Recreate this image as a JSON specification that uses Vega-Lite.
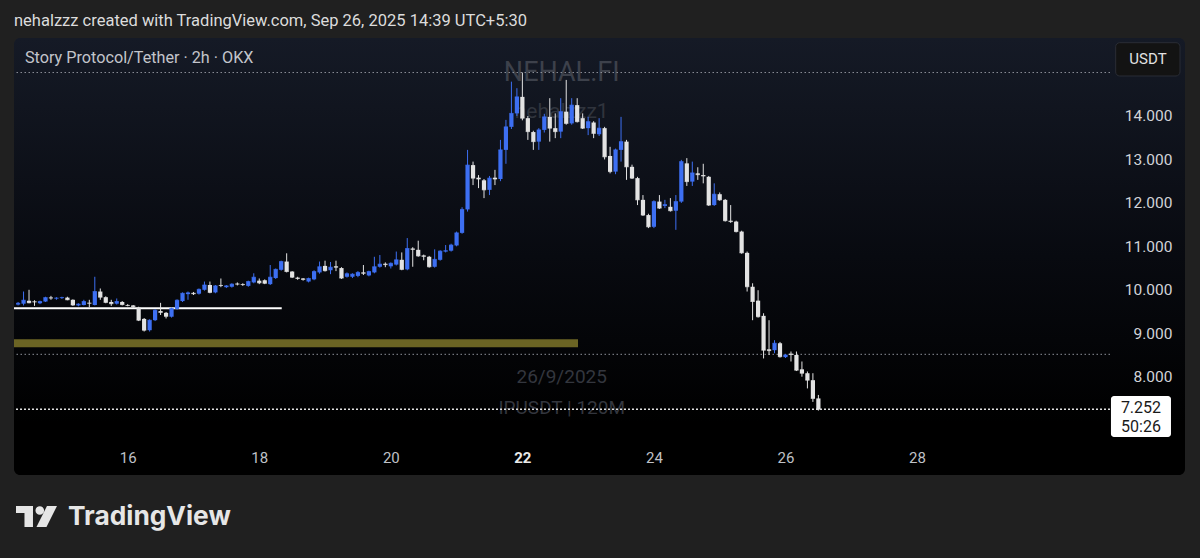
{
"$schema": "https://vega.github.io/schema/vega-lite/v6.json",
"width": 1096,
"height": 402,
"autosize": {"type": "none"},
"padding": {"left": 14, "top": 38, "right": 90, "bottom": 118},
"background": "#202020",
"title": {"text": "nehalzzz created with TradingView.com, Sep 26, 2025 14:39 UTC+5:30", "anchor": "start", "frame": "group", "offset": 9, "fontSize": 16.5, "fontWeight": "normal", "font": "Roboto", "color": "#dcdcdc"},
"config": {"view": {"stroke": null}, "font": "Roboto"},
"datasets": {
"one": [{}],
"candles": [
{"t":"2025-09-14T09:30Z","o":9.66,"h":9.72,"l":9.64,"c":9.69},
{"t":"2025-09-14T11:30Z","o":9.68,"h":9.96,"l":9.64,"c":9.76},
{"t":"2025-09-14T13:30Z","o":9.75,"h":10.00,"l":9.69,"c":9.70},
{"t":"2025-09-14T15:30Z","o":9.73,"h":9.76,"l":9.63,"c":9.72},
{"t":"2025-09-14T17:30Z","o":9.69,"h":9.75,"l":9.67,"c":9.73},
{"t":"2025-09-14T19:30Z","o":9.73,"h":9.84,"l":9.72,"c":9.82},
{"t":"2025-09-14T21:30Z","o":9.82,"h":9.86,"l":9.77,"c":9.81},
{"t":"2025-09-14T23:30Z","o":9.80,"h":9.83,"l":9.77,"c":9.81},
{"t":"2025-09-15T01:30Z","o":9.81,"h":9.84,"l":9.79,"c":9.82},
{"t":"2025-09-15T03:30Z","o":9.82,"h":9.84,"l":9.76,"c":9.77},
{"t":"2025-09-15T05:30Z","o":9.77,"h":9.78,"l":9.63,"c":9.65},
{"t":"2025-09-15T07:30Z","o":9.64,"h":9.69,"l":9.62,"c":9.67},
{"t":"2025-09-15T09:30Z","o":9.65,"h":9.77,"l":9.64,"c":9.73},
{"t":"2025-09-15T11:30Z","o":9.70,"h":9.77,"l":9.60,"c":9.69},
{"t":"2025-09-15T13:30Z","o":9.65,"h":10.30,"l":9.64,"c":9.96},
{"t":"2025-09-15T15:30Z","o":9.96,"h":10.03,"l":9.77,"c":9.83},
{"t":"2025-09-15T17:30Z","o":9.83,"h":9.85,"l":9.69,"c":9.71},
{"t":"2025-09-15T19:30Z","o":9.72,"h":9.77,"l":9.63,"c":9.68},
{"t":"2025-09-15T21:30Z","o":9.68,"h":9.80,"l":9.66,"c":9.73},
{"t":"2025-09-15T23:30Z","o":9.72,"h":9.74,"l":9.64,"c":9.66},
{"t":"2025-09-16T01:30Z","o":9.65,"h":9.67,"l":9.62,"c":9.64},
{"t":"2025-09-16T03:30Z","o":9.64,"h":9.65,"l":9.58,"c":9.61},
{"t":"2025-09-16T05:30Z","o":9.59,"h":9.61,"l":9.28,"c":9.30},
{"t":"2025-09-16T07:30Z","o":9.33,"h":9.35,"l":9.04,"c":9.07},
{"t":"2025-09-16T09:30Z","o":9.07,"h":9.32,"l":9.04,"c":9.30},
{"t":"2025-09-16T11:30Z","o":9.30,"h":9.55,"l":9.28,"c":9.53},
{"t":"2025-09-16T13:30Z","o":9.51,"h":9.70,"l":9.42,"c":9.48},
{"t":"2025-09-16T15:30Z","o":9.47,"h":9.49,"l":9.34,"c":9.39},
{"t":"2025-09-16T17:30Z","o":9.38,"h":9.59,"l":9.36,"c":9.57},
{"t":"2025-09-16T19:30Z","o":9.56,"h":9.78,"l":9.54,"c":9.76},
{"t":"2025-09-16T21:30Z","o":9.74,"h":9.94,"l":9.72,"c":9.92},
{"t":"2025-09-16T23:30Z","o":9.90,"h":9.96,"l":9.77,"c":9.93},
{"t":"2025-09-17T01:30Z","o":9.93,"h":9.95,"l":9.88,"c":9.91},
{"t":"2025-09-17T03:30Z","o":9.91,"h":10.03,"l":9.89,"c":10.01},
{"t":"2025-09-17T05:30Z","o":10.00,"h":10.19,"l":9.98,"c":10.11},
{"t":"2025-09-17T07:30Z","o":10.11,"h":10.19,"l":9.92,"c":9.94},
{"t":"2025-09-17T09:30Z","o":9.94,"h":10.11,"l":9.92,"c":10.09},
{"t":"2025-09-17T11:30Z","o":10.11,"h":10.26,"l":10.06,"c":10.10},
{"t":"2025-09-17T13:30Z","o":10.06,"h":10.11,"l":10.04,"c":10.09},
{"t":"2025-09-17T15:30Z","o":10.07,"h":10.15,"l":10.05,"c":10.13},
{"t":"2025-09-17T17:30Z","o":10.14,"h":10.17,"l":10.10,"c":10.13},
{"t":"2025-09-17T19:30Z","o":10.13,"h":10.15,"l":10.09,"c":10.12},
{"t":"2025-09-17T21:30Z","o":10.09,"h":10.21,"l":10.07,"c":10.19},
{"t":"2025-09-17T23:30Z","o":10.17,"h":10.38,"l":10.15,"c":10.29},
{"t":"2025-09-18T01:30Z","o":10.21,"h":10.26,"l":10.13,"c":10.16},
{"t":"2025-09-18T03:30Z","o":10.22,"h":10.24,"l":10.13,"c":10.15},
{"t":"2025-09-18T05:30Z","o":10.13,"h":10.57,"l":10.11,"c":10.29},
{"t":"2025-09-18T07:30Z","o":10.27,"h":10.49,"l":10.25,"c":10.47},
{"t":"2025-09-18T09:30Z","o":10.46,"h":10.67,"l":10.44,"c":10.65},
{"t":"2025-09-18T11:30Z","o":10.65,"h":10.84,"l":10.40,"c":10.42},
{"t":"2025-09-18T13:30Z","o":10.42,"h":10.43,"l":10.27,"c":10.29},
{"t":"2025-09-18T15:30Z","o":10.28,"h":10.30,"l":10.23,"c":10.26},
{"t":"2025-09-18T17:30Z","o":10.26,"h":10.27,"l":10.21,"c":10.24},
{"t":"2025-09-18T19:30Z","o":10.19,"h":10.28,"l":10.17,"c":10.26},
{"t":"2025-09-18T21:30Z","o":10.24,"h":10.45,"l":10.22,"c":10.42},
{"t":"2025-09-18T23:30Z","o":10.40,"h":10.65,"l":10.37,"c":10.53},
{"t":"2025-09-19T01:30Z","o":10.55,"h":10.67,"l":10.42,"c":10.44},
{"t":"2025-09-19T03:30Z","o":10.45,"h":10.64,"l":10.36,"c":10.52},
{"t":"2025-09-19T05:30Z","o":10.54,"h":10.67,"l":10.43,"c":10.52},
{"t":"2025-09-19T07:30Z","o":10.50,"h":10.52,"l":10.25,"c":10.27},
{"t":"2025-09-19T09:30Z","o":10.30,"h":10.40,"l":10.28,"c":10.37},
{"t":"2025-09-19T11:30Z","o":10.30,"h":10.38,"l":10.27,"c":10.36},
{"t":"2025-09-19T13:30Z","o":10.32,"h":10.43,"l":10.29,"c":10.40},
{"t":"2025-09-19T15:30Z","o":10.40,"h":10.57,"l":10.34,"c":10.38},
{"t":"2025-09-19T17:30Z","o":10.33,"h":10.44,"l":10.31,"c":10.42},
{"t":"2025-09-19T19:30Z","o":10.40,"h":10.76,"l":10.38,"c":10.53},
{"t":"2025-09-19T21:30Z","o":10.53,"h":10.80,"l":10.51,"c":10.59},
{"t":"2025-09-19T23:30Z","o":10.60,"h":10.63,"l":10.52,"c":10.58},
{"t":"2025-09-20T01:30Z","o":10.54,"h":10.63,"l":10.49,"c":10.61},
{"t":"2025-09-20T03:30Z","o":10.58,"h":10.88,"l":10.56,"c":10.69},
{"t":"2025-09-20T05:30Z","o":10.69,"h":10.86,"l":10.45,"c":10.47},
{"t":"2025-09-20T07:30Z","o":10.47,"h":11.19,"l":10.45,"c":10.95},
{"t":"2025-09-20T09:30Z","o":10.95,"h":10.98,"l":10.53,"c":10.93},
{"t":"2025-09-20T11:30Z","o":10.92,"h":11.13,"l":10.76,"c":10.78},
{"t":"2025-09-20T13:30Z","o":10.79,"h":10.81,"l":10.68,"c":10.77},
{"t":"2025-09-20T15:30Z","o":10.76,"h":10.78,"l":10.51,"c":10.53},
{"t":"2025-09-20T17:30Z","o":10.53,"h":10.93,"l":10.51,"c":10.70},
{"t":"2025-09-20T19:30Z","o":10.69,"h":10.91,"l":10.67,"c":10.89},
{"t":"2025-09-20T21:30Z","o":10.88,"h":11.03,"l":10.86,"c":10.90},
{"t":"2025-09-20T23:30Z","o":10.90,"h":11.06,"l":10.88,"c":11.03},
{"t":"2025-09-21T01:30Z","o":11.02,"h":11.34,"l":11.00,"c":11.31},
{"t":"2025-09-21T03:30Z","o":11.31,"h":11.90,"l":11.29,"c":11.85},
{"t":"2025-09-21T05:30Z","o":11.85,"h":13.22,"l":11.80,"c":12.87},
{"t":"2025-09-21T07:30Z","o":12.87,"h":12.95,"l":12.41,"c":12.57},
{"t":"2025-09-21T09:30Z","o":12.58,"h":12.64,"l":12.34,"c":12.55},
{"t":"2025-09-21T11:30Z","o":12.52,"h":12.55,"l":12.11,"c":12.30},
{"t":"2025-09-21T13:30Z","o":12.30,"h":12.62,"l":12.18,"c":12.57},
{"t":"2025-09-21T15:30Z","o":12.58,"h":12.76,"l":12.41,"c":12.55},
{"t":"2025-09-21T17:30Z","o":12.55,"h":13.45,"l":12.50,"c":13.22},
{"t":"2025-09-21T19:30Z","o":13.22,"h":13.91,"l":12.90,"c":13.75},
{"t":"2025-09-21T21:30Z","o":13.75,"h":14.79,"l":13.70,"c":14.06},
{"t":"2025-09-21T23:30Z","o":14.06,"h":14.64,"l":14.00,"c":14.44},
{"t":"2025-09-22T01:30Z","o":14.44,"h":15.00,"l":13.90,"c":13.95},
{"t":"2025-09-22T03:30Z","o":13.95,"h":14.00,"l":13.45,"c":13.64},
{"t":"2025-09-22T05:30Z","o":13.63,"h":13.66,"l":13.22,"c":13.41},
{"t":"2025-09-22T07:30Z","o":13.41,"h":13.72,"l":13.22,"c":13.68},
{"t":"2025-09-22T09:30Z","o":13.68,"h":14.05,"l":13.62,"c":13.98},
{"t":"2025-09-22T11:30Z","o":13.98,"h":14.41,"l":13.41,"c":13.72},
{"t":"2025-09-22T13:30Z","o":13.72,"h":14.06,"l":13.49,"c":13.64},
{"t":"2025-09-22T15:30Z","o":13.64,"h":14.41,"l":13.49,"c":14.10},
{"t":"2025-09-22T17:30Z","o":14.10,"h":14.83,"l":13.80,"c":13.83},
{"t":"2025-09-22T19:30Z","o":13.83,"h":14.41,"l":13.80,"c":14.25},
{"t":"2025-09-22T21:30Z","o":14.25,"h":14.41,"l":13.85,"c":13.87},
{"t":"2025-09-22T23:30Z","o":13.95,"h":14.06,"l":13.70,"c":13.72},
{"t":"2025-09-23T01:30Z","o":13.72,"h":13.98,"l":13.56,"c":13.87},
{"t":"2025-09-23T03:30Z","o":13.85,"h":13.88,"l":13.49,"c":13.60},
{"t":"2025-09-23T05:30Z","o":13.58,"h":13.95,"l":13.54,"c":13.72},
{"t":"2025-09-23T07:30Z","o":13.72,"h":13.75,"l":13.00,"c":13.06},
{"t":"2025-09-23T09:30Z","o":13.08,"h":13.29,"l":12.68,"c":12.72},
{"t":"2025-09-23T11:30Z","o":12.72,"h":13.25,"l":12.66,"c":13.22},
{"t":"2025-09-23T13:30Z","o":13.22,"h":13.98,"l":12.95,"c":13.41},
{"t":"2025-09-23T15:30Z","o":13.41,"h":13.45,"l":12.53,"c":12.83},
{"t":"2025-09-23T17:30Z","o":12.83,"h":12.88,"l":12.55,"c":12.57},
{"t":"2025-09-23T19:30Z","o":12.57,"h":12.60,"l":11.95,"c":12.07},
{"t":"2025-09-23T21:30Z","o":12.07,"h":12.18,"l":11.70,"c":11.72},
{"t":"2025-09-23T23:30Z","o":11.72,"h":11.75,"l":11.42,"c":11.45},
{"t":"2025-09-24T01:30Z","o":11.45,"h":12.06,"l":11.42,"c":12.03},
{"t":"2025-09-24T03:30Z","o":12.03,"h":12.18,"l":11.86,"c":11.88},
{"t":"2025-09-24T05:30Z","o":11.93,"h":12.07,"l":11.88,"c":11.96},
{"t":"2025-09-24T07:30Z","o":11.91,"h":12.11,"l":11.80,"c":11.82},
{"t":"2025-09-24T09:30Z","o":11.82,"h":12.18,"l":11.38,"c":12.03},
{"t":"2025-09-24T11:30Z","o":12.03,"h":12.99,"l":12.00,"c":12.95},
{"t":"2025-09-24T13:30Z","o":12.91,"h":13.03,"l":12.39,"c":12.49},
{"t":"2025-09-24T15:30Z","o":12.49,"h":12.95,"l":12.39,"c":12.69},
{"t":"2025-09-24T17:30Z","o":12.68,"h":12.82,"l":12.53,"c":12.65},
{"t":"2025-09-24T19:30Z","o":12.64,"h":12.90,"l":12.45,"c":12.62},
{"t":"2025-09-24T21:30Z","o":12.60,"h":12.62,"l":11.93,"c":11.95},
{"t":"2025-09-24T23:30Z","o":11.95,"h":12.45,"l":11.93,"c":12.20},
{"t":"2025-09-25T01:30Z","o":12.20,"h":12.24,"l":12.05,"c":12.07},
{"t":"2025-09-25T03:30Z","o":12.07,"h":12.09,"l":11.57,"c":11.59},
{"t":"2025-09-25T05:30Z","o":11.59,"h":11.95,"l":11.54,"c":11.57},
{"t":"2025-09-25T07:30Z","o":11.57,"h":11.59,"l":11.32,"c":11.34},
{"t":"2025-09-25T09:30Z","o":11.34,"h":11.36,"l":10.83,"c":10.85},
{"t":"2025-09-25T11:30Z","o":10.85,"h":10.88,"l":9.96,"c":10.07},
{"t":"2025-09-25T13:30Z","o":10.07,"h":10.15,"l":9.30,"c":9.73},
{"t":"2025-09-25T15:30Z","o":9.75,"h":9.99,"l":9.36,"c":9.38},
{"t":"2025-09-25T17:30Z","o":9.40,"h":9.46,"l":8.42,"c":8.61},
{"t":"2025-09-25T19:30Z","o":8.63,"h":9.30,"l":8.50,"c":8.60},
{"t":"2025-09-25T21:30Z","o":8.61,"h":8.84,"l":8.54,"c":8.77},
{"t":"2025-09-25T23:30Z","o":8.77,"h":8.80,"l":8.44,"c":8.46},
{"t":"2025-09-26T01:30Z","o":8.45,"h":8.52,"l":8.43,"c":8.50},
{"t":"2025-09-26T03:30Z","o":8.53,"h":8.58,"l":8.35,"c":8.51},
{"t":"2025-09-26T05:30Z","o":8.50,"h":8.58,"l":8.13,"c":8.15},
{"t":"2025-09-26T07:30Z","o":8.17,"h":8.35,"l":8.00,"c":8.08},
{"t":"2025-09-26T09:30Z","o":8.08,"h":8.12,"l":7.73,"c":7.92},
{"t":"2025-09-26T11:30Z","o":7.92,"h":8.08,"l":7.42,"c":7.50},
{"t":"2025-09-26T13:30Z","o":7.50,"h":7.58,"l":7.22,"c":7.252}
]
},
"layer": [
{
"data": {"name": "one"},
"mark": {"type": "rect", "cornerRadius": 6, "color": {"gradient": "linear", "x1": 0, "y1": 0, "x2": 0, "y2": 1, "stops": [{"offset": 0, "color": "#151a26"}, {"offset": 0.5, "color": "#080a10"}, {"offset": 0.88, "color": "#000000"}, {"offset": 1, "color": "#000000"}]}},
"encoding": {
"x": {"datum": {"year": 2025, "month": 9, "date": 14, "hours": 8, "minutes": 1, "utc": true}, "type": "temporal"},
"x2": {"datum": {"year": 2025, "month": 10, "date": 2, "hours": 3, "minutes": 16, "utc": true}},
"y": {"datum": 15.795, "type": "quantitative"},
"y2": {"datum": 5.738}
}
},
{
"data": {"name": "one"},
"mark": {"type": "text", "align": "center", "baseline": "middle", "fontSize": 27, "color": "#3d414b"},
"encoding": {
"x": {"datum": {"year": 2025, "month": 9, "date": 22, "hours": 15, "minutes": 51, "utc": true}, "type": "temporal"},
"y": {"datum": 14.99, "type": "quantitative"},
"text": {"value": "NEHAL.FI"}
}
},
{
"data": {"name": "one"},
"mark": {"type": "text", "align": "center", "baseline": "middle", "fontSize": 21, "color": "#30343d"},
"encoding": {
"x": {"datum": {"year": 2025, "month": 9, "date": 22, "hours": 15, "minutes": 51, "utc": true}, "type": "temporal"},
"y": {"datum": 14.09, "type": "quantitative"},
"text": {"value": "nehalzzz1"}
}
},
{
"data": {"name": "one"},
"mark": {"type": "text", "align": "center", "baseline": "middle", "fontSize": 19, "color": "#33363e"},
"encoding": {
"x": {"datum": {"year": 2025, "month": 9, "date": 22, "hours": 15, "minutes": 51, "utc": true}, "type": "temporal"},
"y": {"datum": 8.0, "type": "quantitative"},
"text": {"value": "26/9/2025"}
}
},
{
"data": {"name": "one"},
"mark": {"type": "text", "align": "center", "baseline": "middle", "fontSize": 19, "color": "#33363e"},
"encoding": {
"x": {"datum": {"year": 2025, "month": 9, "date": 22, "hours": 15, "minutes": 51, "utc": true}, "type": "temporal"},
"y": {"datum": 7.273, "type": "quantitative"},
"text": {"value": "IPUSDT | 120M"}
}
},
{
"data": {"name": "one"},
"mark": {"type": "rect", "color": "#6b6424"},
"encoding": {
"x": {"datum": {"year": 2025, "month": 9, "date": 14, "hours": 8, "minutes": 1, "utc": true}, "type": "temporal"},
"x2": {"datum": {"year": 2025, "month": 9, "date": 22, "hours": 21, "minutes": 48, "utc": true}},
"y": {"datum": 8.86, "type": "quantitative"},
"y2": {"datum": 8.68}
}
},
{
"data": {"name": "one"},
"mark": {"type": "rule", "color": "#8d9099", "strokeDash": [1.5, 2.5], "strokeWidth": 1},
"encoding": {"y": {"datum": 15.0, "type": "quantitative"}}
},
{
"data": {"name": "one"},
"mark": {"type": "rule", "color": "#8d9099", "strokeDash": [1.5, 2.5], "strokeWidth": 1},
"encoding": {"y": {"datum": 8.515, "type": "quantitative"}}
},
{
"data": {"name": "one"},
"mark": {"type": "rule", "color": "#e2e2e2", "strokeDash": [2, 2], "strokeWidth": 1.5},
"encoding": {"y": {"datum": 7.252, "type": "quantitative"}}
},
{
"data": {"name": "one"},
"mark": {"type": "rule", "color": "#ffffff", "strokeWidth": 2},
"encoding": {
"x": {"datum": {"year": 2025, "month": 9, "date": 14, "hours": 8, "minutes": 1, "utc": true}, "type": "temporal"},
"x2": {"datum": {"year": 2025, "month": 9, "date": 18, "hours": 9, "minutes": 42, "utc": true}},
"y": {"datum": 9.574, "type": "quantitative"}
}
},
{
"data": {"name": "candles"},
"encoding": {
"x": {"field": "t", "type": "temporal",
"scale": {"domain": [{"year": 2025, "month": 9, "date": 14, "hours": 8, "minutes": 1, "utc": true}, {"year": 2025, "month": 9, "date": 30, "hours": 23, "minutes": 54, "utc": true}], "nice": false, "padding": 0},
"axis": {"title": null, "zindex": 2, "values": [
{"year": 2025, "month": 9, "date": 16, "hours": 1, "minutes": 30, "utc": true},
{"year": 2025, "month": 9, "date": 18, "hours": 1, "minutes": 30, "utc": true},
{"year": 2025, "month": 9, "date": 20, "hours": 1, "minutes": 30, "utc": true},
{"year": 2025, "month": 9, "date": 22, "hours": 1, "minutes": 30, "utc": true},
{"year": 2025, "month": 9, "date": 24, "hours": 1, "minutes": 30, "utc": true},
{"year": 2025, "month": 9, "date": 26, "hours": 1, "minutes": 30, "utc": true},
{"year": 2025, "month": 9, "date": 28, "hours": 1, "minutes": 30, "utc": true}],
"labelExpr": "'' + utcdate(datum.value)",
"domain": false, "ticks": false, "tickSize": 0, "grid": false,
"labelPadding": 17, "labelBaseline": "middle", "labelFontSize": 15, "labelFont": "Roboto",
"labelFlush": false, "labelOverlap": false,
"labelColor": {"condition": {"test": "utcdate(datum.value) == 22", "value": "#eaeaea"}, "value": "#bfc1c7"},
"labelFontWeight": {"condition": {"test": "utcdate(datum.value) == 22", "value": "bold"}, "value": "normal"}}},
"color": {"condition": {"test": "datum.c < datum.o", "value": "#e3e3e3"}, "value": "#3d6ff2"}
},
"layer": [
{"mark": {"type": "rule", "strokeWidth": 1},
"encoding": {
"y": {"field": "l", "type": "quantitative",
"scale": {"domain": [6.543, 15.795], "nice": false, "zero": false, "padding": 0},
"axis": {"title": null, "zindex": 2, "orient": "right", "values": [8, 9, 10, 11, 12, 13, 14], "format": ".3f",
"domain": false, "ticks": false, "tickSize": 0, "grid": false,
"labelAlign": "right", "labelBaseline": "middle", "labelPadding": 62,
"labelFontSize": 15.5, "labelFont": "Roboto", "labelColor": "#d1d3d8"}},
"y2": {"field": "h"}}},
{"mark": {"type": "bar", "width": 4.2},
"encoding": {"y": {"field": "o", "type": "quantitative"}, "y2": {"field": "c"}}},
{"mark": {"type": "tick", "orient": "horizontal", "size": 4.2, "thickness": 1},
"encoding": {"y": {"field": "c", "type": "quantitative"}}}
]
},
{
"data": {"name": "one"},
"mark": {"type": "text", "align": "left", "baseline": "middle", "fontSize": 16.2, "color": "#c3c5cb"},
"encoding": {
"x": {"datum": {"year": 2025, "month": 9, "date": 14, "hours": 12, "minutes": 2, "utc": true}, "type": "temporal"},
"y": {"datum": 15.335, "type": "quantitative"},
"text": {"value": "Story Protocol/Tether · 2h · OKX"}
}
},
{
"data": {"name": "one"},
"mark": {"type": "rect", "color": "#131313", "stroke": "#2a2d35", "strokeWidth": 1, "cornerRadius": 4},
"encoding": {
"x": {"datum": {"year": 2025, "month": 10, "date": 1, "hours": 1, "minutes": 58, "utc": true}, "type": "temporal"},
"x2": {"datum": {"year": 2025, "month": 10, "date": 2, "hours": 1, "minutes": 26, "utc": true}},
"y": {"datum": 15.687, "type": "quantitative"},
"y2": {"datum": 14.921}
}
},
{
"data": {"name": "one"},
"mark": {"type": "text", "align": "center", "baseline": "middle", "fontSize": 15, "color": "#e2e2e2"},
"encoding": {
"x": {"datum": {"year": 2025, "month": 10, "date": 1, "hours": 13, "minutes": 45, "utc": true}, "type": "temporal"},
"y": {"datum": 15.312, "type": "quantitative"},
"text": {"value": "USDT"}
}
},
{
"data": {"name": "one"},
"mark": {"type": "rect", "color": "#ffffff", "cornerRadius": 3},
"encoding": {
"x": {"datum": {"year": 2025, "month": 10, "date": 1, "hours": 0, "minutes": 15, "utc": true}, "type": "temporal"},
"x2": {"datum": {"year": 2025, "month": 10, "date": 1, "hours": 22, "minutes": 9, "utc": true}},
"y": {"datum": 7.556, "type": "quantitative"},
"y2": {"datum": 6.612}
}
},
{
"data": {"name": "one"},
"mark": {"type": "text", "align": "center", "baseline": "middle", "fontSize": 16, "color": "#1a1a1a"},
"encoding": {
"x": {"datum": {"year": 2025, "month": 10, "date": 1, "hours": 11, "minutes": 12, "utc": true}, "type": "temporal"},
"y": {"datum": 7.28, "type": "quantitative"},
"text": {"value": "7.252"}
}
},
{
"data": {"name": "one"},
"mark": {"type": "text", "align": "center", "baseline": "middle", "fontSize": 16, "color": "#1a1a1a"},
"encoding": {
"x": {"datum": {"year": 2025, "month": 10, "date": 1, "hours": 11, "minutes": 12, "utc": true}, "type": "temporal"},
"y": {"datum": 6.849, "type": "quantitative"},
"text": {"value": "50:26"}
}
},
{
"data": {"name": "one"},
"mark": {"type": "point", "filled": true, "opacity": 1, "color": "#e6e6e6", "size": 1681,
"shape": "M-1,-0.512 L-0.171,-0.512 L-0.171,0.512 L-0.585,0.512 L-0.585,-0.171 L-1,-0.171 Z M-0.049,-0.293 A0.21,0.21 0 1 0 0.371,-0.293 A0.21,0.21 0 1 0 -0.049,-0.293 Z M0.512,-0.512 L1,-0.512 L0.488,0.512 L0,0.512 Z"},
"encoding": {
"x": {"datum": {"year": 2025, "month": 9, "date": 14, "hours": 16, "minutes": 13, "utc": true}, "type": "temporal"},
"y": {"datum": 4.7825, "type": "quantitative"}
}
},
{
"data": {"name": "one"},
"mark": {"type": "text", "align": "left", "baseline": "middle", "fontSize": 26.3, "font": "Inter", "fontWeight": 700, "color": "#e6e6e6"},
"encoding": {
"x": {"datum": {"year": 2025, "month": 9, "date": 15, "hours": 3, "minutes": 43, "utc": true}, "type": "temporal"},
"y": {"datum": 4.775, "type": "quantitative"},
"text": {"value": "TradingView"}
}
}
]
}
